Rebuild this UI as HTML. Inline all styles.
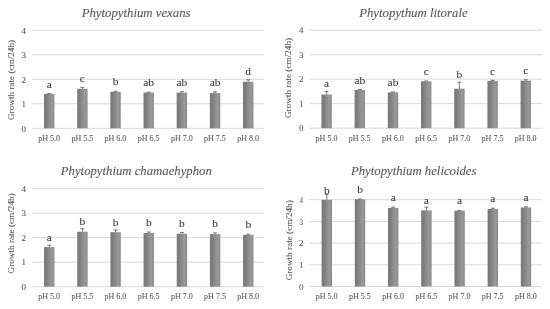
<!DOCTYPE html>
<html><head><meta charset="utf-8"><title>Growth rate charts</title><style>
html,body{margin:0;padding:0;background:#fff;width:550px;height:309px;overflow:hidden;}
svg{display:block;filter:blur(0.3px);}
text{font-family:"Liberation Serif","Times New Roman",serif;stroke-width:0.08px;}
.t{stroke-width:0.12px;}
.t,.tick,.cat,.yl{stroke:#595959;}
.lt{stroke:#3a3a3a;stroke-width:0.05px;}
.t{font-style:italic;font-size:13.4px;fill:#595959;}
.tick{font-size:9px;fill:#595959;}
.cat{font-size:8px;fill:#595959;}
.yl{font-size:9.2px;fill:#595959;}
.lt{font-size:11.4px;fill:#333;}
</style></head><body>
<svg width="550" height="309" viewBox="0 0 550 309">
<defs><linearGradient id="g" x1="0" x2="1" y1="0" y2="0">
<stop offset="0" stop-color="#7c7c7c"/><stop offset="0.15" stop-color="#7a7a7a"/><stop offset="0.75" stop-color="#999999"/><stop offset="1" stop-color="#8a8a8a"/>
</linearGradient></defs>
<rect width="550" height="309" fill="#fff"/>

<g>
<line x1="32.0" x2="264.0" y1="128.30" y2="128.30" stroke="#d9d9d9" stroke-width="1"/>
<text class="tick" x="23.7" y="131.50" text-anchor="middle">0</text>
<line x1="32.0" x2="264.0" y1="103.80" y2="103.80" stroke="#d9d9d9" stroke-width="1"/>
<text class="tick" x="23.7" y="107.00" text-anchor="middle">1</text>
<line x1="32.0" x2="264.0" y1="79.30" y2="79.30" stroke="#d9d9d9" stroke-width="1"/>
<text class="tick" x="23.7" y="82.50" text-anchor="middle">2</text>
<line x1="32.0" x2="264.0" y1="54.80" y2="54.80" stroke="#d9d9d9" stroke-width="1"/>
<text class="tick" x="23.7" y="58.00" text-anchor="middle">3</text>
<line x1="32.0" x2="264.0" y1="30.30" y2="30.30" stroke="#d9d9d9" stroke-width="1"/>
<text class="tick" x="23.7" y="33.50" text-anchor="middle">4</text>
<text class="yl" x="13.9" y="80.00" text-anchor="middle" transform="rotate(-90 13.9 80.00)">Growth rate (cm/24h)</text>
<rect x="44.00" y="94.00" width="10.4" height="34.30" fill="url(#g)"/>
<path d="M47.20 93.50H51.20" stroke="#555" stroke-width="0.8" fill="none"/>
<text class="lt" x="49.20" y="87.50" text-anchor="middle">a</text>
<text class="cat" x="49.10" y="140.90" text-anchor="middle">pH 5.0</text>
<rect x="77.17" y="88.80" width="10.4" height="39.50" fill="url(#g)"/>
<path d="M82.37 88.80V87.30M80.37 87.30H84.37" stroke="#555" stroke-width="0.8" fill="none"/>
<text class="lt" x="82.37" y="81.80" text-anchor="middle">c</text>
<text class="cat" x="82.27" y="140.90" text-anchor="middle">pH 5.5</text>
<rect x="110.34" y="91.80" width="10.4" height="36.50" fill="url(#g)"/>
<path d="M113.54 91.30H117.54" stroke="#555" stroke-width="0.8" fill="none"/>
<text class="lt" x="115.54" y="85.20" text-anchor="middle">b</text>
<text class="cat" x="115.44" y="140.90" text-anchor="middle">pH 6.0</text>
<rect x="143.51" y="92.50" width="10.4" height="35.80" fill="url(#g)"/>
<path d="M146.71 92.20H150.71" stroke="#555" stroke-width="0.8" fill="none"/>
<text class="lt" x="148.71" y="85.70" text-anchor="middle">ab</text>
<text class="cat" x="148.61" y="140.90" text-anchor="middle">pH 6.5</text>
<rect x="176.68" y="92.60" width="10.4" height="35.70" fill="url(#g)"/>
<path d="M181.88 92.60V91.70M179.88 91.70H183.88" stroke="#555" stroke-width="0.8" fill="none"/>
<text class="lt" x="181.88" y="86.10" text-anchor="middle">ab</text>
<text class="cat" x="181.78" y="140.90" text-anchor="middle">pH 7.0</text>
<rect x="209.85" y="93.10" width="10.4" height="35.20" fill="url(#g)"/>
<path d="M215.05 93.10V91.90M213.05 91.90H217.05" stroke="#555" stroke-width="0.8" fill="none"/>
<text class="lt" x="215.05" y="86.10" text-anchor="middle">ab</text>
<text class="cat" x="214.95" y="140.90" text-anchor="middle">pH 7.5</text>
<rect x="243.02" y="81.70" width="10.4" height="46.60" fill="url(#g)"/>
<path d="M248.22 81.70V79.80M246.22 79.80H250.22" stroke="#555" stroke-width="0.8" fill="none"/>
<text class="lt" x="248.22" y="75.20" text-anchor="middle">d</text>
<text class="cat" x="248.12" y="140.90" text-anchor="middle">pH 8.0</text>
<text class="t" x="136.1" y="17.0" text-anchor="middle" textLength="108.8" lengthAdjust="spacingAndGlyphs">Phytopythium vexans</text>
</g>
<g>
<line x1="310.0" x2="542.4" y1="128.20" y2="128.20" stroke="#d9d9d9" stroke-width="1"/>
<text class="tick" x="301.2" y="131.40" text-anchor="middle">0</text>
<line x1="310.0" x2="542.4" y1="103.70" y2="103.70" stroke="#d9d9d9" stroke-width="1"/>
<text class="tick" x="301.2" y="106.90" text-anchor="middle">1</text>
<line x1="310.0" x2="542.4" y1="79.20" y2="79.20" stroke="#d9d9d9" stroke-width="1"/>
<text class="tick" x="301.2" y="82.40" text-anchor="middle">2</text>
<line x1="310.0" x2="542.4" y1="54.70" y2="54.70" stroke="#d9d9d9" stroke-width="1"/>
<text class="tick" x="301.2" y="57.90" text-anchor="middle">3</text>
<line x1="310.0" x2="542.4" y1="30.20" y2="30.20" stroke="#d9d9d9" stroke-width="1"/>
<text class="tick" x="301.2" y="33.40" text-anchor="middle">4</text>
<text class="yl" x="290.6" y="78.00" text-anchor="middle" transform="rotate(-90 290.6 78.00)">Growth rate (cm/24h)</text>
<rect x="321.40" y="94.50" width="10.4" height="33.70" fill="url(#g)"/>
<path d="M326.60 94.50V91.60M324.60 91.60H328.60" stroke="#555" stroke-width="0.8" fill="none"/>
<text class="lt" x="326.60" y="87.20" text-anchor="middle">a</text>
<text class="cat" x="326.50" y="140.80" text-anchor="middle">pH 5.0</text>
<rect x="354.60" y="89.90" width="10.4" height="38.30" fill="url(#g)"/>
<path d="M357.80 89.40H361.80" stroke="#555" stroke-width="0.8" fill="none"/>
<text class="lt" x="359.80" y="83.70" text-anchor="middle">ab</text>
<text class="cat" x="359.70" y="140.80" text-anchor="middle">pH 5.5</text>
<rect x="387.80" y="92.30" width="10.4" height="35.90" fill="url(#g)"/>
<path d="M391.00 91.90H395.00" stroke="#555" stroke-width="0.8" fill="none"/>
<text class="lt" x="393.00" y="86.20" text-anchor="middle">ab</text>
<text class="cat" x="392.90" y="140.80" text-anchor="middle">pH 6.0</text>
<rect x="421.00" y="81.30" width="10.4" height="46.90" fill="url(#g)"/>
<path d="M424.20 81.00H428.20" stroke="#555" stroke-width="0.8" fill="none"/>
<text class="lt" x="426.20" y="75.00" text-anchor="middle">c</text>
<text class="cat" x="426.10" y="140.80" text-anchor="middle">pH 6.5</text>
<rect x="454.20" y="88.70" width="10.4" height="39.50" fill="url(#g)"/>
<path d="M459.40 88.70V82.20M457.40 82.20H461.40" stroke="#555" stroke-width="0.8" fill="none"/>
<text class="lt" x="459.40" y="77.80" text-anchor="middle">b</text>
<text class="cat" x="459.30" y="140.80" text-anchor="middle">pH 7.0</text>
<rect x="487.40" y="80.90" width="10.4" height="47.30" fill="url(#g)"/>
<path d="M492.60 80.90V80.30M490.60 80.30H494.60" stroke="#555" stroke-width="0.8" fill="none"/>
<text class="lt" x="492.60" y="74.60" text-anchor="middle">c</text>
<text class="cat" x="492.50" y="140.80" text-anchor="middle">pH 7.5</text>
<rect x="520.60" y="80.70" width="10.4" height="47.50" fill="url(#g)"/>
<path d="M525.80 80.70V79.80M523.80 79.80H527.80" stroke="#555" stroke-width="0.8" fill="none"/>
<text class="lt" x="525.80" y="74.20" text-anchor="middle">c</text>
<text class="cat" x="525.70" y="140.80" text-anchor="middle">pH 8.0</text>
<text class="t" x="413.4" y="17.3" text-anchor="middle" textLength="108.5" lengthAdjust="spacingAndGlyphs">Phytopythum litorale</text>
</g>
<g>
<line x1="32.0" x2="264.0" y1="286.70" y2="286.70" stroke="#d9d9d9" stroke-width="1"/>
<text class="tick" x="23.7" y="289.90" text-anchor="middle">0</text>
<line x1="32.0" x2="264.0" y1="262.20" y2="262.20" stroke="#d9d9d9" stroke-width="1"/>
<text class="tick" x="23.7" y="265.40" text-anchor="middle">1</text>
<line x1="32.0" x2="264.0" y1="237.70" y2="237.70" stroke="#d9d9d9" stroke-width="1"/>
<text class="tick" x="23.7" y="240.90" text-anchor="middle">2</text>
<line x1="32.0" x2="264.0" y1="213.20" y2="213.20" stroke="#d9d9d9" stroke-width="1"/>
<text class="tick" x="23.7" y="216.40" text-anchor="middle">3</text>
<line x1="32.0" x2="264.0" y1="188.70" y2="188.70" stroke="#d9d9d9" stroke-width="1"/>
<text class="tick" x="23.7" y="191.90" text-anchor="middle">4</text>
<text class="yl" x="14.0" y="233.40" text-anchor="middle" transform="rotate(-90 14.0 233.40)">Growth rate (cm/24h)</text>
<rect x="44.05" y="247.10" width="10.4" height="39.60" fill="url(#g)"/>
<path d="M49.25 247.10V245.20M47.25 245.20H51.25" stroke="#555" stroke-width="0.8" fill="none"/>
<text class="lt" x="49.25" y="240.50" text-anchor="middle">a</text>
<text class="cat" x="49.15" y="299.30" text-anchor="middle">pH 5.0</text>
<rect x="77.22" y="231.70" width="10.4" height="55.00" fill="url(#g)"/>
<path d="M82.42 231.70V228.80M80.42 228.80H84.42" stroke="#555" stroke-width="0.8" fill="none"/>
<text class="lt" x="82.42" y="225.00" text-anchor="middle">b</text>
<text class="cat" x="82.32" y="299.30" text-anchor="middle">pH 5.5</text>
<rect x="110.39" y="232.20" width="10.4" height="54.50" fill="url(#g)"/>
<path d="M115.59 232.20V230.00M113.59 230.00H117.59" stroke="#555" stroke-width="0.8" fill="none"/>
<text class="lt" x="115.59" y="225.90" text-anchor="middle">b</text>
<text class="cat" x="115.49" y="299.30" text-anchor="middle">pH 6.0</text>
<rect x="143.56" y="233.00" width="10.4" height="53.70" fill="url(#g)"/>
<path d="M148.76 233.00V232.00M146.76 232.00H150.76" stroke="#555" stroke-width="0.8" fill="none"/>
<text class="lt" x="148.76" y="226.30" text-anchor="middle">b</text>
<text class="cat" x="148.66" y="299.30" text-anchor="middle">pH 6.5</text>
<rect x="176.73" y="233.70" width="10.4" height="53.00" fill="url(#g)"/>
<path d="M181.93 233.70V232.60M179.93 232.60H183.93" stroke="#555" stroke-width="0.8" fill="none"/>
<text class="lt" x="181.93" y="226.90" text-anchor="middle">b</text>
<text class="cat" x="181.83" y="299.30" text-anchor="middle">pH 7.0</text>
<rect x="209.90" y="234.10" width="10.4" height="52.60" fill="url(#g)"/>
<path d="M215.10 234.10V232.90M213.10 232.90H217.10" stroke="#555" stroke-width="0.8" fill="none"/>
<text class="lt" x="215.10" y="226.90" text-anchor="middle">b</text>
<text class="cat" x="215.00" y="299.30" text-anchor="middle">pH 7.5</text>
<rect x="243.07" y="234.90" width="10.4" height="51.80" fill="url(#g)"/>
<path d="M248.27 234.90V234.20M246.27 234.20H250.27" stroke="#555" stroke-width="0.8" fill="none"/>
<text class="lt" x="248.27" y="228.00" text-anchor="middle">b</text>
<text class="cat" x="248.17" y="299.30" text-anchor="middle">pH 8.0</text>
<text class="t" x="136.3" y="174.9" text-anchor="middle" textLength="151.0" lengthAdjust="spacingAndGlyphs">Phytopythium chamaehyphon</text>
</g>
<g>
<line x1="309.5" x2="542.0" y1="286.50" y2="286.50" stroke="#d9d9d9" stroke-width="1"/>
<text class="tick" x="301.3" y="289.70" text-anchor="middle">0</text>
<line x1="309.5" x2="542.0" y1="264.80" y2="264.80" stroke="#d9d9d9" stroke-width="1"/>
<text class="tick" x="301.3" y="268.00" text-anchor="middle">1</text>
<line x1="309.5" x2="542.0" y1="243.10" y2="243.10" stroke="#d9d9d9" stroke-width="1"/>
<text class="tick" x="301.3" y="246.30" text-anchor="middle">2</text>
<line x1="309.5" x2="542.0" y1="221.40" y2="221.40" stroke="#d9d9d9" stroke-width="1"/>
<text class="tick" x="0" y="224.60" text-anchor="middle" transform="translate(301.3 0) scale(0.72 1)">3</text>
<line x1="309.5" x2="542.0" y1="199.70" y2="199.70" stroke="#d9d9d9" stroke-width="1"/>
<text class="tick" x="0" y="202.90" text-anchor="middle" transform="translate(301.3 0) scale(0.72 1)">4</text>
<text class="yl" x="292.0" y="240.30" text-anchor="middle" transform="rotate(-90 292.0 240.30)">Growth rate (cm/24h)</text>
<rect x="321.60" y="199.80" width="10.4" height="86.70" fill="url(#g)"/>
<path d="M326.80 199.80V194.40M324.80 194.40H328.80" stroke="#555" stroke-width="0.8" fill="none"/>
<text class="lt" x="326.80" y="193.50" text-anchor="middle">b</text>
<text class="cat" x="326.70" y="299.10" text-anchor="middle">pH 5.0</text>
<rect x="354.80" y="199.30" width="10.4" height="87.20" fill="url(#g)"/>
<path d="M358.00 199.00H362.00" stroke="#555" stroke-width="0.8" fill="none"/>
<text class="lt" x="360.00" y="192.80" text-anchor="middle">b</text>
<text class="cat" x="359.90" y="299.10" text-anchor="middle">pH 5.5</text>
<rect x="388.00" y="207.90" width="10.4" height="78.60" fill="url(#g)"/>
<path d="M393.20 207.90V207.10M391.20 207.10H395.20" stroke="#555" stroke-width="0.8" fill="none"/>
<text class="lt" x="393.20" y="201.40" text-anchor="middle">a</text>
<text class="cat" x="393.10" y="299.10" text-anchor="middle">pH 6.0</text>
<rect x="421.20" y="210.40" width="10.4" height="76.10" fill="url(#g)"/>
<path d="M426.40 210.40V207.10M424.40 207.10H428.40" stroke="#555" stroke-width="0.8" fill="none"/>
<text class="lt" x="426.40" y="203.50" text-anchor="middle">a</text>
<text class="cat" x="426.30" y="299.10" text-anchor="middle">pH 6.5</text>
<rect x="454.40" y="210.70" width="10.4" height="75.80" fill="url(#g)"/>
<path d="M457.60 210.40H461.60" stroke="#555" stroke-width="0.8" fill="none"/>
<text class="lt" x="459.60" y="204.00" text-anchor="middle">a</text>
<text class="cat" x="459.50" y="299.10" text-anchor="middle">pH 7.0</text>
<rect x="487.60" y="208.90" width="10.4" height="77.60" fill="url(#g)"/>
<path d="M492.80 208.90V208.20M490.80 208.20H494.80" stroke="#555" stroke-width="0.8" fill="none"/>
<text class="lt" x="492.80" y="202.20" text-anchor="middle">a</text>
<text class="cat" x="492.70" y="299.10" text-anchor="middle">pH 7.5</text>
<rect x="520.80" y="207.50" width="10.4" height="79.00" fill="url(#g)"/>
<path d="M526.00 207.50V206.80M524.00 206.80H528.00" stroke="#555" stroke-width="0.8" fill="none"/>
<text class="lt" x="526.00" y="201.30" text-anchor="middle">a</text>
<text class="cat" x="525.90" y="299.10" text-anchor="middle">pH 8.0</text>
<text class="t" x="413.7" y="174.9" text-anchor="middle" textLength="125.5" lengthAdjust="spacingAndGlyphs">Phytopythium helicoides</text>
</g>
</svg></body></html>
